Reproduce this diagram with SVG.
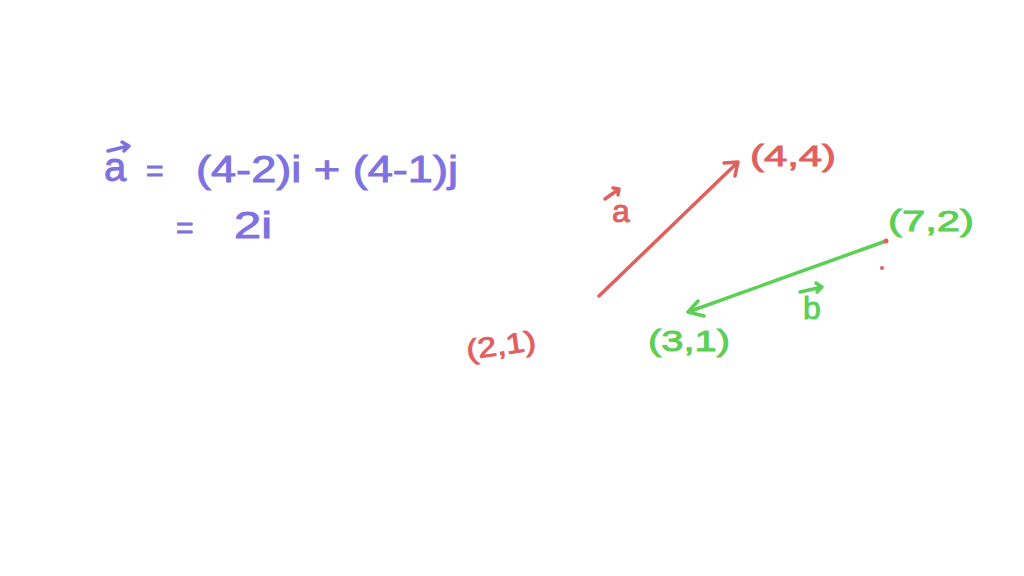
<svg xmlns="http://www.w3.org/2000/svg" width="1024" height="576" viewBox="0 0 1024 576">
<style>
.t{font-family:"Liberation Sans","DejaVu Sans",sans-serif;font-weight:normal;stroke-width:0.9}
.p{fill:#7d72e0;stroke:#7d72e0}
.r{fill:#e0605e;stroke:#e0605e}
.g{fill:#5ccf55;stroke:#5ccf55}
.ln{fill:none;stroke-width:3.5;stroke-linecap:round;stroke-linejoin:round}
</style>
<rect width="1024" height="576" fill="#ffffff"/>
<g id="equation">
<path class="ln" stroke="#7d72e0" d="M108 151 L128 146 M122 142 L129 146 L124 151"/>
<text class="t p" x="104" y="181" font-size="40">a</text>
<text class="t p" x="146" y="181" font-size="30">=</text>
<text class="t p" x="196" y="182" font-size="36" textLength="262" lengthAdjust="spacingAndGlyphs">(4-2)i + (4-1)j</text>
<text class="t p" x="176" y="238" font-size="30">=</text>
<text class="t p" x="234" y="238" font-size="36" textLength="38" lengthAdjust="spacingAndGlyphs">2i</text>
</g>
<g id="connectors">
<path class="ln" stroke="#e0605e" d="M599 296 L738 162 M724 163 L738 162 L735 176"/>
<path class="ln" stroke="#5ccf55" d="M886 241 L688 312 M698 301 L688 312 L704 316"/>
<path class="ln" stroke="#e0605e" d="M605 199 L619 189 M613 188 L619 189 L618 195"/>
<path class="ln" stroke="#5ccf55" d="M800 292 L822 287 M816 283 L822 287 L817 292"/>
</g>
<g id="vec-a-label"><text class="t r" x="612" y="222" font-size="32">a</text></g>
<g id="vec-b-label"><text class="t g" x="803" y="319" font-size="32">b</text></g>
<g id="p44"><text class="t r" x="750" y="166" font-size="30" textLength="86" lengthAdjust="spacingAndGlyphs">(4,4)</text></g>
<g id="p21"><text class="t r" x="466" y="355" font-size="28" textLength="70" lengthAdjust="spacingAndGlyphs" transform="rotate(-8 500 345)">(2,1)</text></g>
<g id="p31"><text class="t g" x="648" y="351" font-size="30" textLength="82" lengthAdjust="spacingAndGlyphs">(3,1)</text></g>
<g id="p72"><text class="t g" x="888" y="231" font-size="30" textLength="86" lengthAdjust="spacingAndGlyphs">(7,2)</text></g>
<circle cx="886" cy="241" r="2.5" fill="#e0605e"/>
<circle cx="882" cy="268" r="2" fill="#e0605e"/>
</svg>
